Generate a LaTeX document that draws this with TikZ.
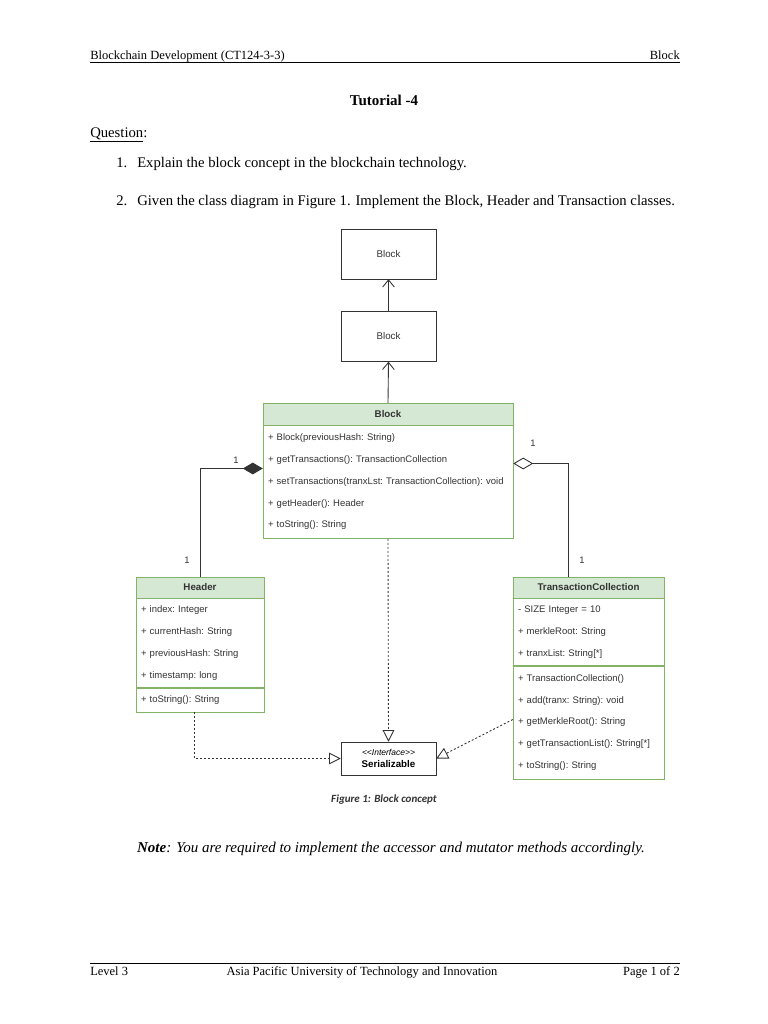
\documentclass[tikz,border=0pt]{standalone}
\usepackage{fontspec}
\setmainfont{Liberation Serif}
\newfontfamily\umlfont{Liberation Sans}
\newfontfamily\capfont{Carlito}
\usetikzlibrary{arrows.meta, positioning}
\newlength{\pxl}
\setlength{\pxl}{0.02811cm}
\definecolor{headgreen}{HTML}{D5E8D4}
\definecolor{linegreen}{HTML}{82B366}
\definecolor{umlgray}{HTML}{333333}
\tikzstyle{pagetext} = [inner sep=0pt, font=\fontsize{11.75}{14}\selectfont]
\tikzstyle{plainbox} = [rectangle, draw=umlgray, fill=white, minimum width=95\pxl,
  minimum height=50\pxl, text centered, text=umlgray, font=\umlfont\fontsize{7.8}{9}\selectfont]
\tikzstyle{classhead} = [rectangle, draw=linegreen, fill=headgreen, minimum height=22\pxl,
  inner sep=0pt, text=umlgray, font=\umlfont\bfseries\fontsize{7.8}{9}\selectfont]
\tikzstyle{members} = [rectangle, draw=linegreen, fill=white, align=left, inner xsep=5\pxl,
  inner ysep=0pt, text=umlgray, font=\umlfont\frenchspacing\fontsize{7.6}{17.4}\selectfont]
\tikzstyle{iface} = [rectangle, draw=umlgray, fill=white, minimum width=95\pxl,
  minimum height=33\pxl, align=center, inner sep=0pt, text=black, font=\umlfont\fontsize{7.8}{9}\selectfont]
\tikzstyle{mult} = [inner sep=0pt, text=umlgray, font=\umlfont\fontsize{7.5}{8}\selectfont]
\tikzstyle{arrow} = [umlgray, line width=0.7pt, -{Straight Barb[length=2mm,width=3.3mm]}]
\tikzstyle{realize} = [umlgray, line width=0.7pt, dash pattern=on 1.6pt off 1.6pt,
  -{Triangle[open,length=3.3mm,width=3.3mm]}]
\tikzstyle{compose} = [umlgray, line width=0.7pt, -{Diamond[length=5.6mm,width=3.3mm]}]
\tikzstyle{aggregate} = [umlgray, line width=0.7pt, -{Diamond[open,length=5.6mm,width=3.3mm]}]
\begin{document}
\begin{tikzpicture}[x=0.02811cm, y=-0.02811cm]

  \fill[white] (0,0) rectangle (768,1024);
  \useasboundingbox (0,0) rectangle (768,1024);

  %% Page header
  \node (course) [pagetext, anchor=base west, font=\fontsize{10}{12}\selectfont] at (90,59) {Blockchain Development (CT124-3-3)};
  \node (topic) [pagetext, anchor=base east, font=\fontsize{10}{12}\selectfont] at (680,59) {Block};
  \draw [line width=0.8pt] (90,63) -- (680,63);

  \node (title) [pagetext, anchor=base, font=\bfseries\fontsize{12}{14}\selectfont] at (384,106) {Tutorial -4};
  \node (question) [pagetext, anchor=base west] at (90,137) {\underline{Question}:};
  \node (num1) [pagetext, anchor=base west] at (116,167) {1.};
  \node (item1) [pagetext, anchor=base west] at (137,167) {Explain the block concept in the blockchain technology.};
  \node (num2) [pagetext, anchor=base west] at (116,205) {2.};
  \node (item2) [pagetext, anchor=base west] at (137,205) {Given the class diagram in Figure 1. Implement the Block, Header and Transaction classes.};

  %% Chain of blocks
  \node (blkA) [plainbox] at (388.5,254) {Block};
  \node (blkB) [plainbox] at (388.5,336.5) {Block};

  %% Block class
  \node (blkhead) [classhead, minimum width=250\pxl] at (388,414) {Block};
  \node (blkops) [members, text width=240\pxl, minimum height=113\pxl, below=0pt of blkhead] {%
    + Block(previousHash: String)\\
    + getTransactions(): TransactionCollection\\
    \mbox{+ setTransactions(tranxLst: TransactionCollection): void}\\
    + getHeader(): Header\\
    + toString(): String};

  %% Header class
  \node (hdrhead) [classhead, minimum width=128\pxl, minimum height=21\pxl] at (200,587.5) {Header};
  \node (hdrattr) [members, text width=118\pxl, minimum height=89\pxl, below=0pt of hdrhead] {%
    + index: Integer\\
    + currentHash: String\\
    + previousHash: String\\
    + timestamp: long};
  \node (hdrops) [members, text width=118\pxl, minimum height=24\pxl, below=0pt of hdrattr] {+ toString(): String};

  %% TransactionCollection class
  \node (tchead) [classhead, minimum width=151\pxl, minimum height=21\pxl] at (588.5,587.5) {TransactionCollection};
  \node (tcattr) [members, text width=141\pxl, minimum height=67\pxl, below=0pt of tchead] {%
    - SIZE Integer = 10\\
    + merkleRoot: String\\
    + tranxList: String[*]};
  \node (tcops) [members, text width=141\pxl, minimum height=113\pxl, below=0pt of tcattr] {%
    + TransactionCollection()\\
    + add(tranx: String): void\\
    + getMerkleRoot(): String\\
    \mbox{+ getTransactionList(): String[*]}\\
    + toString(): String};

  %% Interface
  \node (ser) [iface] at (388.5,758.5) {{\itshape\fontsize{6.8}{8}\selectfont <<Interface>>}\\[0.5pt]\textbf{Serializable}};

  %% Multiplicities
  \node (mleft) [mult] at (236,460) {1};
  \node (mhdr) [mult] at (187,560) {1};
  \node (mright) [mult] at (533,443) {1};
  \node (mtc) [mult] at (582,560) {1};

  \draw [arrow] (blkB.north) -- (blkA.south);
  \draw [arrow] (blkhead.north) -- (blkB.south);
  \draw [compose] (hdrhead.north) |- ([yshift=13.5\pxl]blkops.west);
  \draw [aggregate] ([xshift=-20\pxl]tchead.north) |- ([yshift=18.5\pxl]blkops.east);

  %% Realizations of the interface
  \draw [realize] (blkops.south) -- (ser.north);
  \draw [realize] ([xshift=-6\pxl]hdrops.south) |- (ser.west);
  \draw [realize] ([yshift=3\pxl]tcops.west) -- (ser.east);

  %% Caption and note
  \node (caption) [anchor=base, inner sep=0pt, text=umlgray, font=\capfont\bfseries\itshape\fontsize{8.8}{10}\selectfont] at (384,802) {Figure 1: Block concept};
  \node (note) [pagetext, anchor=base, font=\itshape\fontsize{12}{14}\selectfont] at (391,852) {\textbf{Note}: You are required to implement the accessor and mutator methods accordingly.};

  %% Page footer
  \draw [line width=0.8pt] (90,963) -- (680,963);
  \node (level) [pagetext, anchor=base west, font=\fontsize{10}{12}\selectfont] at (90,975) {Level 3};
  \node (uni) [pagetext, anchor=base, font=\fontsize{10}{12}\selectfont] at (362,975) {Asia Pacific University of Technology and Innovation};
  \node (page) [pagetext, anchor=base east, font=\fontsize{10}{12}\selectfont] at (680,975) {Page 1 of 2};

\end{tikzpicture}
\end{document}
